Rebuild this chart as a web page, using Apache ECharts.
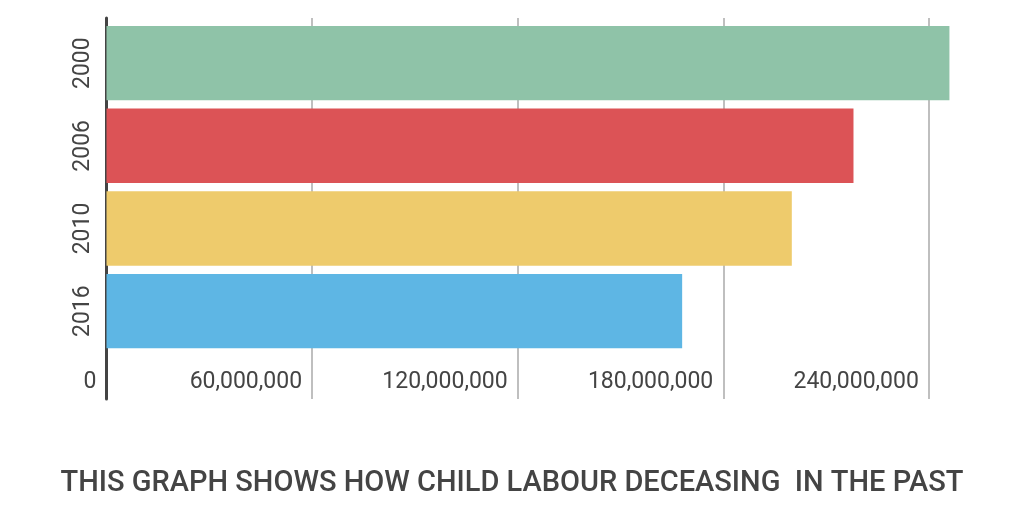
<!DOCTYPE html>
<html>
<head>
<meta charset="utf-8">
<script src="https://cdn.jsdelivr.net/npm/echarts@6/dist/echarts.min.js"></script>
<style>
html,body{margin:0;padding:0;background:#fff;}
#c{width:1024px;height:512px;}
</style>
</head>
<body>
<div id="c"></div>
<script>
const years = ['2000', '2006', '2010', '2016'];
const childLabour = [246000000, 218000000, 200000000, 168000000];
const barColors = ['#8fc3a8', '#dc5356', '#eecb6c', '#5eb6e4'];
const axisMin = 0;
const axisMax = 260000000;
const axisStep = 60000000;
const titleText = 'THIS GRAPH SHOWS HOW CHILD LABOUR DECEASING  IN THE PAST';

const fmt = v => v.toLocaleString('en-US');
const chart = echarts.init(document.getElementById('c'));
chart.setOption({
  animation: false,
  backgroundColor: '#fff',
  textStyle: { fontFamily: 'Roboto' },
  title: {
    text: titleText,
    left: 'center',
    top: 464,
    textStyle: { fontFamily: 'Roboto', fontSize: 29, fontWeight: 500, color: '#444' }
  },
  grid: [
    { left: 106.5, right: 26.6, top: 18, height: 381 },
    { left: 106.5, right: 26.6, top: 21.8, height: 330.7 }
  ],
  xAxis: [
    {
      gridIndex: 0, type: 'value', min: axisMin, max: axisMax, interval: axisStep,
      axisLine: { show: false }, axisTick: { show: false },
      splitLine: { show: true, showMaxLine: false, lineStyle: { color: '#aaa', width: 1.5 } },
      axisLabel: {
        inside: true, align: 'right', padding: [0, 10, 0, 0], margin: 5,
        fontSize: 23, color: '#444', fontFamily: 'Roboto',
        showMaxLabel: false, formatter: fmt
      }
    },
    { gridIndex: 1, type: 'value', min: axisMin, max: axisMax, show: false }
  ],
  yAxis: [
    {
      gridIndex: 0, type: 'value', min: 0, max: 1,
      axisLine: { show: true, lineStyle: { color: '#444', width: 3 } },
      axisTick: { show: false }, axisLabel: { show: false }, splitLine: { show: false }
    },
    {
      gridIndex: 1, type: 'category', data: years, inverse: true,
      axisLine: { show: false }, axisTick: { show: false },
      axisLabel: { rotate: 90, margin: 12, fontSize: 23, color: '#444', fontFamily: 'Roboto' }
    }
  ],
  series: [{
    type: 'bar', xAxisIndex: 1, yAxisIndex: 1,
    barCategoryGap: '10%',
    data: childLabour.map((v, i) => ({ value: v, itemStyle: { color: barColors[i] } }))
  }]
});
</script>
</body>
</html>
